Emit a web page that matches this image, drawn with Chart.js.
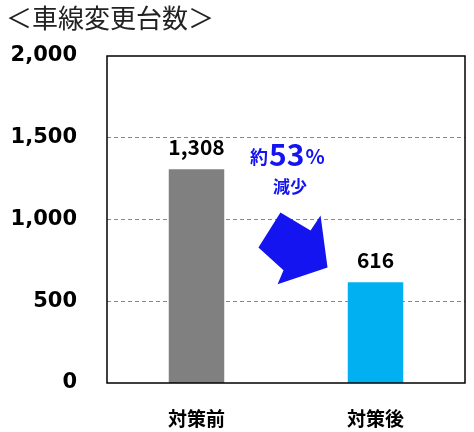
<!DOCTYPE html>
<html><head><meta charset="utf-8">
<script src="https://cdn.jsdelivr.net/npm/chart.js@4"></script>
<style>html,body{margin:0;padding:0;background:#fff}#w{width:474px;height:432px}</style>
</head><body><div id="w"><canvas id="c"></canvas></div>
<script>
const titleText = '＜車線変更台数＞';
const categories = ['対策前', '対策後'];
const values = [1308, 616];
const barColors = ['#808080', '#00B0F0'];
const valueLabels = ['1,308', '616'];
const yTicks = [0, 500, 1000, 1500, 2000];
const arrowPts = [[0.469,1043],[0.637,933],[0.693,1024],[0.732,707],[0.453,604],[0.486,689],[0.346,829]];
const FONT = '"Noto Sans CJK JP", "Noto Sans", sans-serif';

const deco = {
  id: 'deco',
  afterDatasetsDraw(chart) {
    const {ctx, chartArea: a, scales: {x, y}} = chart;
    ctx.save();
    ctx.strokeStyle = '#000'; ctx.lineWidth = 1.5;
    ctx.strokeRect(a.left, a.top, a.right - a.left, a.bottom - a.top);
    ctx.fillStyle = '#000'; ctx.textAlign = 'center'; ctx.textBaseline = 'bottom';
    ctx.font = 'bold 21px ' + FONT;
    values.forEach((v, i) => ctx.fillText(valueLabels[i], x.getPixelForValue(i), y.getPixelForValue(v) - 12));
    ctx.fillStyle = '#1414F0';
    ctx.beginPath();
    arrowPts.forEach((p, i) => { const px = x.getPixelForValue(p[0]), py = y.getPixelForValue(p[1]); i ? ctx.lineTo(px, py) : ctx.moveTo(px, py); });
    ctx.closePath(); ctx.fill();
    ctx.textBaseline = 'alphabetic';
    ctx.font = 'bold 18px ' + FONT;
    const bx = x.getPixelForValue(0.5);
    ctx.textAlign = 'right';
    ctx.fillText('約', bx - 18, y.getPixelForValue(1340));
    ctx.textAlign = 'left';
    ctx.font = 'bold 30px ' + FONT;
    ctx.fillText('53', bx - 17, y.getPixelForValue(1340) + 2);
    const w53 = ctx.measureText('53').width;
    ctx.font = 'bold 20px ' + FONT;
    ctx.fillText('%', bx - 17 + w53 + 1, y.getPixelForValue(1340));
    ctx.textAlign = 'center';
    ctx.font = 'bold 17px ' + FONT;
    ctx.fillText('減少', bx + 4, y.getPixelForValue(1160));
    ctx.font = '26px ' + FONT; ctx.textAlign = 'left'; ctx.fillStyle = '#222';
    ctx.fillText(titleText, 6, 28);
    ctx.restore();
  }
};

new Chart(document.getElementById('c'), {
  type: 'bar',
  data: { labels: categories, datasets: [{ data: values, backgroundColor: barColors, barPercentage: 0.31, categoryPercentage: 1 }] },
  options: {
    responsive: true, maintainAspectRatio: false, animation: false,
    layout: { padding: { top: 56, right: 9, left: 0, bottom: 0 } },
    plugins: { legend: { display: false }, tooltip: { enabled: false } },
    scales: {
      x: { grid: { display: false }, border: { display: false }, afterFit(s) { s.height = 49; },
           ticks: { color: '#000', font: { family: FONT, size: 19, weight: 'bold' }, padding: 16 } },
      y: { min: 0, max: 2000, afterFit(s) { s.width = 107; },
           afterBuildTicks(s) { s.ticks = yTicks.map(v => ({ value: v })); },
           grid: { color: '#888', drawTicks: false, lineWidth: c => (c.tick.value === 0 || c.tick.value === 2000) ? 0 : 1 },
           border: { display: false, dash: [4, 3] },
           ticks: { color: '#000', padding: 30, font: { family: 'Verdana, "DejaVu Sans", sans-serif', size: 21, weight: 'bold' },
                    callback: v => v.toLocaleString('en-US') } }
    }
  },
  plugins: [deco]
});
</script></body></html>
